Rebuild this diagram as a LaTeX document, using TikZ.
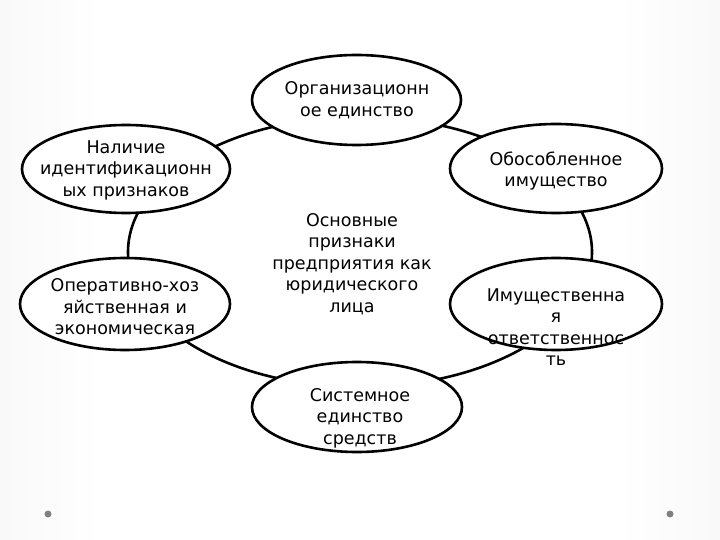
\documentclass[tikz,border=0pt]{standalone}
\usepackage{fontspec}
\setmainfont{DejaVu Sans}
\usetikzlibrary{shapes.geometric}

\pgfdeclarehorizontalshading{slidebg}{100bp}{color(0bp)=(black!17); color(12bp)=(black!7); color(32bp)=(white); color(68bp)=(white); color(88bp)=(black!7); color(100bp)=(black!17)}

\begin{document}
\begin{tikzpicture}[x=1bp, y=-1bp,
  every node/.style={font=\fontsize{17.5bp}{21.5bp}\selectfont, text=black},
  ring/.style={ellipse, draw=black, line width=2.6bp, minimum width=464bp, minimum height=270bp, inner sep=0pt},
  sign/.style={ellipse, draw=black, line width=2.6bp, fill=white, minimum width=210bp, minimum height=90bp, inner sep=0pt},
  caption/.style={align=center, inner sep=0pt},
]
  \useasboundingbox (0,0) rectangle (720,540);
  \shade[shading=slidebg] (0,0) rectangle (720,540);
  \fill[black!50] (48,514) circle (3.5bp) (670,514) circle (3.5bp);

  % ring behind the six signs
  \node[ring] (ring) at (360,252) {};

  \node[sign, minimum width=209bp] (org) at (356.5,100) {};
  \node[sign, minimum width=212bp, minimum height=89bp] (sep) at (556,168.5) {};
  \node[sign, minimum width=208bp, minimum height=88bp] (ident) at (126,169) {};
  \node[sign, minimum height=92bp] (oper) at (125,304) {};
  \node[sign, minimum width=212bp, minimum height=92bp] (liab) at (556,304) {};
  \node[sign] (sys) at (357,407) {};

  \node[caption] (main) at (352,264) {Основные\\признаки\\предприятия как\\юридического\\лица};
  \node[caption] (orgtext) at (357,100) {Организационн\\ое единство};
  \node[caption] (septext) at (556,171) {Обособленное\\имущество};
  \node[caption] (identtext) at (126,170) {Наличие\\идентификационн\\ых признаков};
  \node[caption] (opertext) at (125,307) {Оперативно-хоз\\яйственная и\\экономическая};
  \node[caption] (liabtext) at (556,327) {Имущественна\\я\\ответственнос\\ть};
  \node[caption] (systext) at (360,418) {Системное\\единство\\средств};
\end{tikzpicture}
\end{document}
